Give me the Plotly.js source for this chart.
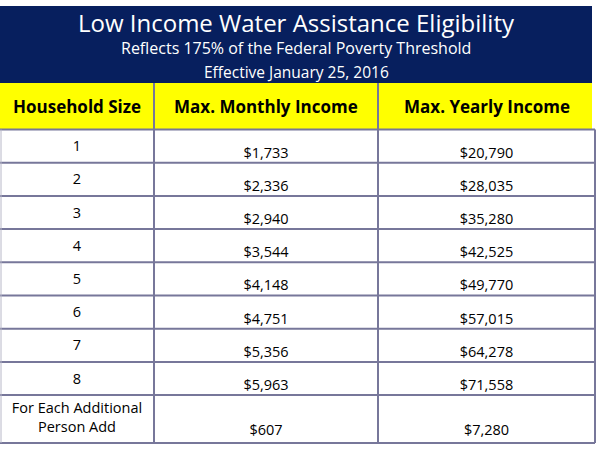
<!DOCTYPE html>
<html>
<head>
<meta charset="utf-8">
<script src="https://cdn.plot.ly/plotly-3.0.1.min.js"></script>
<style>
html,body{margin:0;padding:0;background:#fff;}
#chart{width:596px;height:453px;}
</style>
</head>
<body>
<div id="chart"></div>
<script>
// ---- data ----
const titleLines = ["Low Income Water Assistance Eligibility",
                    "Reflects 175% of the Federal Poverty Threshold",
                    "Effective January 25, 2016"];
const columnHeaders = ["Household Size", "Max. Monthly Income", "Max. Yearly Income"];
const householdSizes = ["1","2","3","4","5","6","7","8","For Each Additional<br>Person Add"];
const maxMonthlyIncome = [1733, 2336, 2940, 3544, 4148, 4751, 5356, 5963, 607];
const maxYearlyIncome = [20790, 28035, 35280, 42525, 49770, 57015, 64278, 71558, 7280];

// ---- layout geometry (pixel-like axis units) ----
const W = 596, H = 453;
const colEdges = [0, 154, 378, 595];
const navyTop = 6, navyBottom = 83, navyRight = 592;
const headerBottom = 129.5;
const rowH = 33.2;
const lastRowBottom = 443;
const NAVY = "#071f5e", YELLOW = "#ffff00", GRID = "#77779a";
const FONT = "Open Sans, Noto Sans, sans-serif";

const fmt = v => "$" + v.toLocaleString("en-US");
const nRows = householdSizes.length;
const rowTops = householdSizes.map((_, i) => headerBottom + i * rowH);
const rowBottoms = rowTops.map((t, i) => i === nRows - 1 ? lastRowBottom : t + rowH);
const colCenters = colEdges.slice(0, -1).map((e, i) => (e + colEdges[i + 1]) / 2);

const shapes = [];
shapes.push({type:"rect", xref:"x", yref:"y", x0:0, x1:navyRight, y0:navyTop, y1:navyBottom,
  fillcolor:NAVY, line:{width:0}, layer:"below"});
shapes.push({type:"rect", xref:"x", yref:"y", x0:0, x1:navyRight, y0:navyBottom, y1:headerBottom,
  fillcolor:YELLOW, line:{width:0}, layer:"below"});
const hLines = [headerBottom].concat(rowBottoms);
hLines.forEach(y => shapes.push({type:"line", xref:"x", yref:"y", x0:0, x1:colEdges[3], y0:y, y1:y,
  line:{color:GRID, width:2}}));
colEdges.forEach((x, i) => {
  const xx = i === 0 ? 1 : x;
  shapes.push({type:"line", xref:"x", yref:"y", x0:xx, x1:xx, y0:(i===0||i===3)?headerBottom:navyBottom, y1:lastRowBottom,
    line:{color: i===0 ? "#b8b8c8" : GRID, width: i===0 ? 1 : 2}});
});

const annotations = [];
const titleY = [22, 48, 72], titleSize = [24, 16, 15.5];
titleLines.forEach((t, i) => annotations.push({xref:"x", yref:"y", x:navyRight/2, y:titleY[i], text:t,
  showarrow:false, font:{family:FONT, size:titleSize[i], color:"#ffffff"}, xanchor:"center", yanchor:"middle"}));
columnHeaders.forEach((h, i) => annotations.push({xref:"x", yref:"y", x:colCenters[i], y:(navyBottom+headerBottom)/2,
  text:"<b>"+h+"</b>", showarrow:false, font:{family:FONT, size:17, color:"#000000"}, xanchor:"center", yanchor:"middle"}));

const sizeY = rowTops.map((t, i) => i === nRows - 1 ? t + 24 : t + 18);
const valueY = rowTops.map((t, i) => i === nRows - 1 ? t + 36 : t + 24.5);

const traces = [
  {type:"scatter", mode:"text", x:householdSizes.map(() => colCenters[0]), y:sizeY,
   text:householdSizes, textposition:"middle center", hoverinfo:"skip",
   textfont:{family:FONT, size:14.5, color:"#000000"}},
  {type:"scatter", mode:"text", x:maxMonthlyIncome.map(() => colCenters[1]), y:valueY,
   text:maxMonthlyIncome.map(fmt), textposition:"middle center", hoverinfo:"skip",
   textfont:{family:FONT, size:14.5, color:"#000000"}},
  {type:"scatter", mode:"text", x:maxYearlyIncome.map(() => colCenters[2]), y:valueY,
   text:maxYearlyIncome.map(fmt), textposition:"middle center", hoverinfo:"skip",
   textfont:{family:FONT, size:14.5, color:"#000000"}}
];

const layout = {
  width:W, height:H, margin:{l:0, r:0, t:0, b:0},
  paper_bgcolor:"#ffffff", plot_bgcolor:"#ffffff", showlegend:false,
  xaxis:{range:[0, W], visible:false, fixedrange:true},
  yaxis:{range:[H, 0], visible:false, fixedrange:true},
  shapes:shapes, annotations:annotations
};
Plotly.newPlot("chart", traces, layout, {displayModeBar:false, staticPlot:true});
</script>
</body>
</html>
